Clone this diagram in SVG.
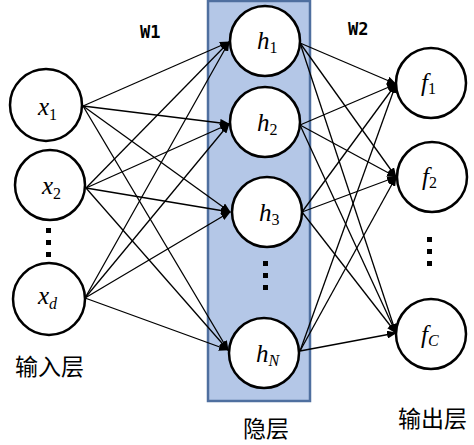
<svg xmlns="http://www.w3.org/2000/svg" width="474" height="445" viewBox="0 0 474 445">
<defs>
<marker id="arr" markerUnits="userSpaceOnUse" markerWidth="10" markerHeight="8" refX="9" refY="4" orient="auto">
<path d="M0,0 L10,4 L0,8 z" fill="#000"/>
</marker>
<style>
.node{fill:#fff;stroke:#000;stroke-width:2.5}
.edge{stroke:#000;stroke-width:1.3;fill:none;marker-end:url(#arr)}
.v{font-family:"Liberation Serif",serif;font-style:italic;font-size:25px;fill:#000}
.s{font-family:"Liberation Serif",serif;font-size:16px;fill:#000}
.lab{font-family:"Noto Sans CJK SC",sans-serif;font-size:23px;fill:#000}
.w{font-family:"DejaVu Sans Mono",monospace;font-weight:bold;font-size:17px;fill:#000}
.dot{fill:#000}
</style>
</defs>
<rect id="hidden-layer" x="208" y="1" width="102" height="400" fill="#b4c7e7" stroke="#4f6f9f" stroke-width="2.5"/>
<g id="connectors">
<line class="edge" x1="83" y1="106" x2="229" y2="42"/>
<line class="edge" x1="83" y1="106" x2="229" y2="124"/>
<line class="edge" x1="83" y1="106" x2="230" y2="212"/>
<line class="edge" x1="83" y1="106" x2="228" y2="350"/>
<line class="edge" x1="86" y1="188" x2="229" y2="42"/>
<line class="edge" x1="86" y1="188" x2="229" y2="124"/>
<line class="edge" x1="86" y1="188" x2="230" y2="212"/>
<line class="edge" x1="86" y1="188" x2="228" y2="350"/>
<line class="edge" x1="85" y1="298" x2="229" y2="42"/>
<line class="edge" x1="85" y1="298" x2="229" y2="124"/>
<line class="edge" x1="85" y1="298" x2="230" y2="212"/>
<line class="edge" x1="85" y1="298" x2="228" y2="350"/>
<line class="edge" x1="300" y1="43" x2="396" y2="84"/>
<line class="edge" x1="300" y1="43" x2="396" y2="177"/>
<line class="edge" x1="300" y1="43" x2="396" y2="333"/>
<line class="edge" x1="300" y1="125" x2="396" y2="84"/>
<line class="edge" x1="300" y1="125" x2="396" y2="177"/>
<line class="edge" x1="300" y1="125" x2="396" y2="333"/>
<line class="edge" x1="302" y1="212" x2="396" y2="84"/>
<line class="edge" x1="302" y1="212" x2="396" y2="177"/>
<line class="edge" x1="302" y1="212" x2="396" y2="333"/>
<line class="edge" x1="300" y1="351" x2="396" y2="84"/>
<line class="edge" x1="300" y1="351" x2="396" y2="177"/>
<line class="edge" x1="300" y1="351" x2="396" y2="333"/>
</g>
<g id="x1"><circle class="node" cx="46" cy="105" r="36"/><text x="38" y="115"><tspan class="v">x</tspan><tspan class="s" dy="5">1</tspan></text></g>
<g id="x2"><circle class="node" cx="50" cy="185" r="35"/><text x="42" y="194"><tspan class="v">x</tspan><tspan class="s" dy="5">2</tspan></text></g>
<g id="xd"><circle class="node" cx="49" cy="299" r="36"/><text x="38" y="304"><tspan class="v">x</tspan><tspan class="s" dy="5" font-style="italic">d</tspan></text></g>
<g id="h1"><circle class="node" cx="265" cy="41" r="35"/><text x="257" y="49"><tspan class="v">h</tspan><tspan class="s" dy="4">1</tspan></text></g>
<g id="h2"><circle class="node" cx="265" cy="122" r="35"/><text x="257" y="131"><tspan class="v">h</tspan><tspan class="s" dy="4">2</tspan></text></g>
<g id="h3"><circle class="node" cx="267" cy="212" r="35"/><text x="259" y="221"><tspan class="v">h</tspan><tspan class="s" dy="4">3</tspan></text></g>
<g id="hN"><circle class="node" cx="264" cy="353" r="35"/><text x="256" y="362"><tspan class="v">h</tspan><tspan class="s" dy="4" font-style="italic">N</tspan></text></g>
<g id="f1"><circle class="node" cx="431" cy="83" r="35"/><text x="421" y="91"><tspan class="v">f</tspan><tspan class="s" dy="3">1</tspan></text></g>
<g id="f2"><circle class="node" cx="432" cy="177" r="35"/><text x="422" y="185"><tspan class="v">f</tspan><tspan class="s" dy="3">2</tspan></text></g>
<g id="fC"><circle class="node" cx="431" cy="334" r="35"/><text x="421" y="343"><tspan class="v">f</tspan><tspan class="s" dy="3" font-style="italic">C</tspan></text></g>
<g id="dots">
<rect class="dot" x="46" y="228" width="5" height="5"/>
<rect class="dot" x="46" y="240" width="5" height="5"/>
<rect class="dot" x="46" y="252" width="5" height="5"/>
<rect class="dot" x="263" y="261" width="5" height="5"/>
<rect class="dot" x="263" y="273" width="5" height="5"/>
<rect class="dot" x="263" y="285" width="5" height="5"/>
<rect class="dot" x="427" y="237" width="5" height="5"/>
<rect class="dot" x="427" y="249" width="5" height="5"/>
<rect class="dot" x="427" y="261" width="5" height="5"/>
</g>
<text class="w" x="140" y="38">W1</text>
<text class="w" x="348" y="35">W2</text>
<text class="lab" x="15" y="375">输入层</text>
<text class="lab" x="243" y="437">隐层</text>
<text class="lab" x="398" y="427">输出层</text>
</svg>
